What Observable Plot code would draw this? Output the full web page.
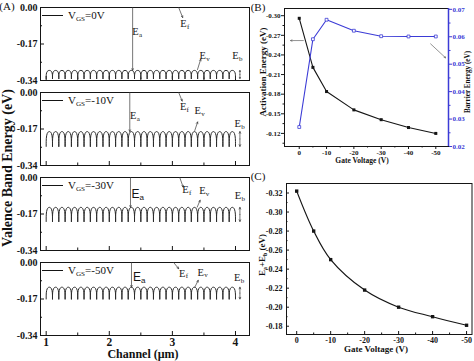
<!DOCTYPE html>
<html><head><meta charset="utf-8">
<script src="https://cdn.jsdelivr.net/npm/d3@7"></script>
<script src="https://cdn.jsdelivr.net/npm/@observablehq/plot@0.6"></script>
<style>
body{margin:0;background:#fff;}
#root{position:relative;width:474px;height:361px;overflow:hidden;background:#fff;font-family:"Liberation Serif",serif;}
#root svg{position:absolute;overflow:visible;}
.lbl{position:absolute;white-space:nowrap;transform:translate(-50%,-50%);color:#111;line-height:1;}
.lbl sub{font-size:0.65em;vertical-align:baseline;position:relative;top:0.3em;}
</style></head><body><div id="root"></div>
<script>
// ---------- Panel A data ----------
const channelEdges = [1.0,1.1,1.2,1.3,1.4,1.5,1.6,1.7,1.8,1.9,2.0,2.1,2.2,2.3,2.4,2.5,2.6,2.7,2.8,2.9,3.0,3.1,3.2,3.3,3.4,3.5,3.6,3.7,3.8,3.9,4.0];
const vgsLabels = ["0V","-10V","-30V","-50V"];
const bandTop  = [-0.293,-0.182,-0.139,-0.115];
const bandCusp = [-0.331,-0.251,-0.205,-0.170];
const aYTicks = [0,-0.17,-0.34];
const aYMinor = [-0.085,-0.255];
const aXTicks = [1,2,3,4];
const aXMinor = [1.5,2.5,3.5];
// annotation anchors (channel, energy)
const eaX = [2.37,2.325,2.336,2.352];
const ebX = [4.07,4.07,4.07,4.07];
const efArrow = [[3.10,0,3.163,-0.047],[3.10,0,3.155,-0.040],[3.117,0,3.171,-0.045],[3.02,0,3.10,-0.029]];
const evArrow = [[3.398,-0.289,3.45,-0.240],[3.355,-0.177,3.40,-0.137],[3.393,-0.138,3.44,-0.106],[3.355,-0.115,3.41,-0.083]];
const eaLabel = [[2.415,-0.114],[2.378,-0.107],[2.415,-0.079],[2.44,-0.068]];
const efLabel = [[3.176,-0.075],[3.17,-0.065],[3.208,-0.058],[3.155,-0.050]];
const evLabel = [[3.48,-0.224],[3.40,-0.084],[3.475,-0.061],[3.45,-0.045]];
const ebLabel = [[4.00,-0.224],[4.037,-0.146],[4.04,-0.084],[4.027,-0.069]];

// ---------- Panel B / C data ----------
const gateV = [0,-5,-10,-20,-30,-40,-50];
const activationE = [-0.296,-0.221,-0.184,-0.156,-0.141,-0.129,-0.120];
const barrierE = [0.0271,0.0591,0.0662,0.0622,0.0602,0.0601,0.0601];
const sumE = [-0.322,-0.280,-0.250,-0.218,-0.200,-0.190,-0.181];
const bLeftTicks = [-0.30,-0.27,-0.24,-0.21,-0.18,-0.15,-0.12];
const bLeftMinor = [-0.285,-0.255,-0.225,-0.195,-0.165,-0.135,-0.105];
const bRightTicks = [0.02,0.03,0.04,0.05,0.06,0.07];
const bRightMinor = [0.025,0.035,0.045,0.055,0.065];
const gateTicks = [0,-10,-20,-30,-40,-50];
const gateMinor = [-5,-15,-25,-35,-45];
const cTicks = [-0.32,-0.30,-0.28,-0.26,-0.24,-0.22,-0.20,-0.18];
const cMinor = [-0.31,-0.29,-0.27,-0.25,-0.23,-0.21,-0.19];

const BLUE = "#3b3bd6";
const INK = "#151515";
const root = document.getElementById("root");
const baseStyle = {fontFamily:"Liberation Serif", fontWeight:"bold", fontSize:"10px", color:INK, background:"transparent", overflow:"visible"};
const f2 = d => d.toFixed(2);
const none = () => "";

function place(el, left, top){
  el.style.position = "absolute"; el.style.left = left+"px"; el.style.top = top+"px";
  root.appendChild(el);
}
function label(html, cx, cy, size, opts={}){
  const d = document.createElement("div");
  d.className = "lbl"; d.innerHTML = html;
  d.style.left = cx+"px"; d.style.top = cy+"px"; d.style.fontSize = size+"px";
  d.style.fontWeight = opts.weight || "bold";
  if (opts.rotate) d.style.transform = `translate(-50%,-50%) rotate(${opts.rotate}deg)`;
  if (opts.color) d.style.color = opts.color;
  if (opts.family) d.style.fontFamily = opts.family;
  root.appendChild(d);
}
function eText(data, o){
  return [
    Plot.text(data, {x:"x", y:"y", text: () => "E", fontFamily:o.family, fontWeight:"normal", fontSize:o.size, fill:INK}),
    Plot.text(data, {x:"x", y:"y", text:"s", dx:o.dx, dy:o.dy, textAnchor:"start", fontFamily:o.family, fontWeight:"normal", fontSize:o.sub, fill:INK})
  ];
}

// ---------- Panel A ----------
const aTops = [7,92,177,262];
for (let i = 0; i < 4; i++){
  const last = i === 3, mt = 7, H = 73, mb = last ? 26 : 6;
  const T = bandTop[i], B = bandCusp[i], Tc = (24*T - B)/23;
  const arches = [];
  for (let k = 0; k < channelEdges.length - 1; k++){
    const x0 = channelEdges[k], x1 = channelEdges[k+1];
    arches.push({k, x:x0, y:B}, {k, x:x0, y:Tc}, {k, x:x1, y:Tc}, {k, x:x1, y:B});
  }
  const arrowStyle = {stroke:"#3a3a3a", strokeWidth:0.7, headLength:4, headAngle:50};
  const eaFont = i >= 2 ? {family:"Liberation Sans", size:12, sub:8, dx:4, dy:3} : {family:"Liberation Serif", size:10.5, sub:7, dx:3.5, dy:3};
  const serifE = {family:"Liberation Serif", size:10.5, sub:7, dx:3.5, dy:3};
  const svg = Plot.plot({
    width:252, height: mt+H+mb, marginLeft:40, marginRight:3, marginTop:mt, marginBottom:mb,
    x:{domain:[0.91,4.222]}, y:{domain:[-0.34,0]},
    style: baseStyle,
    marks:[
      Plot.frame({stroke:INK, strokeWidth:1}),
      Plot.axisY(aYTicks, {tickSize:-4, tickPadding:7, tickFormat:f2, label:null, fontSize:10}),
      Plot.axisY(aYMinor, {tickSize:-2, tickPadding:0, tickFormat:none, label:null}),
      Plot.axisX(aXTicks, {tickSize:-4, tickPadding:6, tickFormat: last ? (d => String(d)) : none, label:null, fontSize:11.5}),
      Plot.axisX(aXMinor, {tickSize:-2.5, tickPadding:0, tickFormat:none, label:null}),
      Plot.line(arches, {x:"x", y:"y", z:"k", curve:"basis", stroke:"#2a2a2a", strokeWidth:1}),
      Plot.arrow([{x:eaX[i], y1:0, y2:T}], {x:"x", y1:"y1", y2:"y2", ...arrowStyle}),
      Plot.arrow([efArrow[i]], {x1:d=>d[0], y1:d=>d[1], x2:d=>d[2], y2:d=>d[3], ...arrowStyle}),
      Plot.arrow([evArrow[i]], {x1:d=>d[0], y1:d=>d[1], x2:d=>d[2], y2:d=>d[3], ...arrowStyle}),
      Plot.arrow([{x:ebX[i], y1:(T+B)/2, y2:T}, {x:ebX[i], y1:(T+B)/2, y2:B}], {x:"x", y1:"y1", y2:"y2", ...arrowStyle}),
      ...eText([{x:eaLabel[i][0], y:eaLabel[i][1], s:"a"}], eaFont),
      ...eText([{x:efLabel[i][0], y:efLabel[i][1], s:"f"}, {x:evLabel[i][0], y:evLabel[i][1], s:"v"}, {x:ebLabel[i][0], y:ebLabel[i][1], s:"b"}], serifE)
    ]
  });
  place(svg, 0, aTops[i] - mt);
  // legend
  const ln = document.createElement("div");
  ln.style.cssText = `position:absolute;left:42px;top:${aTops[i]+8}px;width:21px;height:0;border-top:1.5px solid ${INK};`;
  root.appendChild(ln);
  const lg = document.createElement("div");
  lg.className = "lbl";
  lg.style.cssText = `left:68px;top:${aTops[i]+9}px;transform:translate(0,-50%);font-size:11px;font-weight:normal;`;
  lg.innerHTML = `V<sub>GS</sub>=${vgsLabels[i]}`;
  root.appendChild(lg);
}
label("Valence Band Energy (eV)", 8, 168, 14, {rotate:-90});
label("Channel (μm)", 143, 354, 12);
label("(A)", 7, 6, 11, {weight:"normal"});

// ---------- Panel B ----------
const rows = gateV.map((v,i) => ({v, a:activationE[i], b:barrierE[i], s:sumE[i]}));
const bX = [5.4,-54.65];
const bLayout = {width:224, height:180, marginLeft:34, marginRight:26, marginTop:8, marginBottom:34};
const bBlack = Plot.plot({
  ...bLayout, x:{domain:bX}, y:{domain:[-0.100,-0.311]}, style:baseStyle,
  marks:[
    Plot.frame({stroke:INK}),
    Plot.axisY(bLeftTicks, {tickSize:3, tickPadding:1, tickFormat:f2, label:null, fontSize:7}),
    Plot.axisY(bLeftMinor, {tickSize:1.5, tickFormat:none, label:null}),
    Plot.axisX(gateTicks, {tickSize:3, tickPadding:0.5, tickFormat:d=>String(d), label:null, fontSize:7}),
    Plot.axisX(gateMinor, {tickSize:1.5, tickFormat:none, label:null}),
    Plot.line(rows, {x:"v", y:"a", stroke:INK, strokeWidth:1.1}),
    Plot.dot(rows, {x:"v", y:"a", symbol:"square", r:1.7, fill:INK}),
    Plot.arrow([{x1:-1.5, x2:3.2, y:-0.262}], {x1:"x1", x2:"x2", y:"y", stroke:"#666", strokeWidth:0.7, headLength:3.5, headAngle:50})
  ]
});
place(bBlack, 250, 0);
const bBlue = Plot.plot({
  ...bLayout, x:{domain:bX, axis:null}, y:{domain:[0.02,0.0703]}, style:baseStyle,
  marks:[
    Plot.ruleX([bX[1]], {stroke:BLUE, strokeWidth:1.5}),
    Plot.axisY(bRightTicks, {anchor:"right", tickSize:3, tickPadding:1, tickFormat:f2, label:null, fontSize:7, color:BLUE}),
    Plot.axisY(bRightMinor, {anchor:"right", tickSize:1.5, tickFormat:none, label:null, color:BLUE}),
    Plot.line(rows, {x:"v", y:"b", stroke:BLUE, strokeWidth:1.1}),
    Plot.dot(rows, {x:"v", y:"b", symbol:"square", r:1.6, fill:"white", stroke:BLUE, strokeWidth:0.8}),
    Plot.arrow([{x1:-48.1, y1:0.0574, x2:-53.6, y2:0.0523}], {x1:"x1", y1:"y1", x2:"x2", y2:"y2", stroke:"#666", strokeWidth:0.7, headLength:3.5, headAngle:50})
  ]
});
place(bBlue, 250, 0);
label("Activation Energy (eV)", 263, 72, 9, {rotate:-90});
label("Barrier Energy (eV)", 469, 82, 7.2, {rotate:-90});
label("Gate Voltage (V)", 362, 161, 7.5);
label("(B)", 258, 7, 11, {weight:"normal"});

// ---------- Panel C ----------
const cSvg = Plot.plot({
  width:224, height:185, marginLeft:36, marginRight:2.5, marginTop:7, marginBottom:27,
  x:{domain:[3.0,-51.6]}, y:{domain:[-0.1713,-0.330]}, style:baseStyle,
  marks:[
    Plot.frame({stroke:INK}),
    Plot.axisY(cTicks, {tickSize:-3, tickPadding:7, tickFormat:f2, label:null, fontSize:8}),
    Plot.axisY(cMinor, {tickSize:-1.5, tickFormat:none, label:null}),
    Plot.axisX(gateTicks, {tickSize:-3, tickPadding:5.5, tickFormat:d=>String(d), label:null, fontSize:8}),
    Plot.axisX(gateMinor, {tickSize:-1.5, tickFormat:none, label:null}),
    Plot.line(rows, {x:"v", y:"s", curve:"catmull-rom", stroke:INK, strokeWidth:1.2}),
    Plot.dot(rows, {x:"v", y:"s", symbol:"square", r:1.9, fill:INK})
  ]
});
place(cSvg, 250, 176);
label("E<sub>a</sub>+E<sub>b</sub> (eV)", 262, 255, 9, {rotate:-90});
label("Gate Voltage (V)", 376, 349, 9);
label("(C)", 258, 176, 11, {weight:"normal"});
</script></body></html>
